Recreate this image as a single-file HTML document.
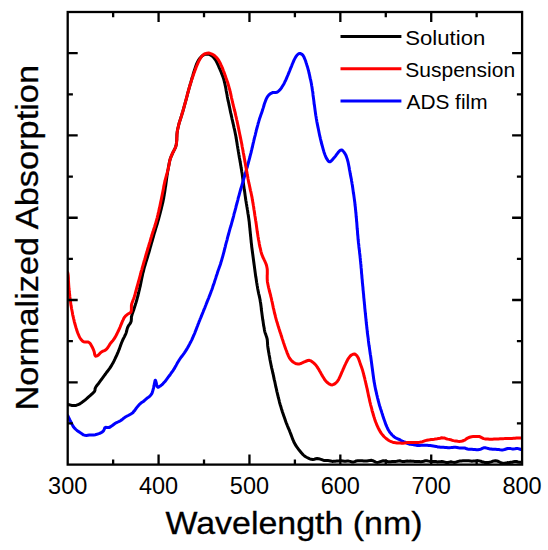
<!DOCTYPE html>
<html><head><meta charset="utf-8"><style>
html,body{margin:0;padding:0;background:#fff;width:548px;height:550px;overflow:hidden}
svg{display:block}
text{font-family:"Liberation Sans",sans-serif}
</style></head><body>
<svg width="548" height="550" viewBox="0 0 548 550">
<rect width="548" height="550" fill="#fff"/>
<defs><clipPath id="c"><rect x="67.7" y="12.0" width="454.4" height="452.6"/></clipPath></defs>
<g clip-path="url(#c)" fill="none" stroke-width="3" stroke-linejoin="round" stroke-linecap="round">
<path stroke="#000000" d="M67.7,404.6 L69.2,404.7 L70.6,405.1 L72.1,405.5 L73.6,405.6 L75.1,405.5 L76.6,405.2 L78.0,404.7 L79.3,404.1 L80.6,403.3 L81.9,402.4 L83.1,401.5 L84.3,400.6 L85.5,399.7 L86.7,398.7 L87.8,397.7 L88.9,396.7 L90.1,395.7 L91.2,394.7 L92.3,393.7 L93.4,392.6 L94.4,391.5 L95.0,390.2 L95.1,388.6 L95.7,387.3 L96.5,386.0 L97.4,384.8 L98.4,383.7 L99.3,382.4 L100.2,381.2 L101.0,380.0 L101.9,378.8 L102.8,377.6 L103.7,376.4 L104.6,375.2 L105.5,374.0 L106.4,372.7 L107.3,371.5 L108.2,370.3 L109.1,369.1 L110.0,367.9 L110.8,366.6 L111.6,365.4 L112.3,364.1 L113.1,362.7 L113.8,361.4 L114.4,360.1 L115.1,358.7 L115.7,357.3 L116.4,356.0 L117.0,354.6 L117.6,353.2 L118.2,351.8 L118.7,350.5 L119.3,349.1 L119.8,347.6 L120.3,346.2 L120.8,344.8 L121.3,343.4 L121.9,342.0 L122.5,340.6 L123.1,339.2 L123.8,337.9 L124.5,336.6 L125.1,335.2 L125.8,333.9 L126.3,332.4 L126.7,331.0 L127.0,329.5 L127.4,328.1 L128.0,326.7 L128.7,325.4 L129.7,324.1 L130.5,322.9 L131.1,321.5 L131.3,320.1 L131.4,318.6 L131.4,317.0 L131.8,315.6 L132.2,314.1 L132.7,312.7 L133.2,311.3 L133.7,309.9 L134.2,308.4 L134.6,307.0 L135.1,305.6 L135.5,304.1 L136.0,302.7 L136.4,301.3 L136.8,299.8 L137.2,298.4 L137.6,296.9 L138.0,295.5 L138.3,294.0 L138.7,292.5 L139.0,291.1 L139.4,289.6 L139.7,288.1 L140.1,286.7 L140.4,285.2 L140.7,283.7 L141.0,282.3 L141.3,280.8 L141.6,279.3 L141.9,277.8 L142.2,276.4 L142.5,274.9 L142.8,273.4 L143.2,272.0 L143.6,270.5 L143.9,269.1 L144.3,267.6 L144.7,266.2 L145.2,264.7 L145.6,263.3 L146.0,261.8 L146.5,260.4 L146.9,259.0 L147.4,257.5 L147.8,256.1 L148.2,254.6 L148.7,253.2 L149.1,251.8 L149.5,250.3 L149.9,248.9 L150.3,247.4 L150.7,246.0 L151.1,244.5 L151.5,243.1 L152.0,241.6 L152.4,240.2 L152.8,238.7 L153.2,237.3 L153.6,235.8 L154.0,234.4 L154.4,232.9 L154.9,231.5 L155.3,230.1 L155.7,228.6 L156.2,227.2 L156.6,225.8 L157.1,224.3 L157.5,222.9 L157.9,221.4 L158.3,220.0 L158.7,218.5 L159.1,217.1 L159.5,215.6 L159.9,214.2 L160.3,212.7 L160.6,211.3 L161.0,209.8 L161.4,208.3 L161.7,206.9 L162.1,205.4 L162.4,203.9 L162.8,202.5 L163.1,201.0 L163.4,199.5 L163.7,198.1 L163.9,196.6 L164.2,195.1 L164.4,193.6 L164.7,192.1 L164.9,190.7 L165.1,189.2 L165.3,187.7 L165.6,186.2 L165.8,184.7 L166.0,183.2 L166.2,181.7 L166.4,180.2 L166.6,178.7 L166.8,177.2 L167.0,175.8 L167.3,174.3 L167.5,172.8 L167.7,171.3 L168.0,169.8 L168.3,168.3 L168.5,166.8 L168.8,165.4 L169.1,163.9 L169.4,162.4 L169.7,160.9 L170.1,159.5 L170.5,158.1 L171.1,156.7 L171.7,155.3 L172.3,153.9 L172.9,152.5 L173.6,151.2 L174.3,149.8 L175.0,148.4 L175.6,147.1 L176.0,145.7 L176.3,144.2 L176.5,142.7 L176.6,141.2 L176.8,139.7 L176.8,138.2 L176.9,136.7 L176.9,135.2 L177.0,133.7 L177.2,132.2 L177.4,130.7 L177.7,129.2 L178.0,127.8 L178.4,126.3 L178.7,124.8 L179.1,123.4 L179.5,121.9 L180.0,120.5 L180.5,119.1 L180.9,117.6 L181.4,116.2 L181.8,114.8 L182.2,113.3 L182.7,111.9 L183.1,110.4 L183.5,109.0 L183.9,107.5 L184.3,106.1 L184.7,104.6 L185.1,103.2 L185.5,101.7 L185.9,100.3 L186.3,98.8 L186.7,97.4 L187.1,95.9 L187.4,94.5 L187.8,93.0 L188.2,91.6 L188.6,90.1 L189.0,88.7 L189.4,87.2 L189.8,85.8 L190.2,84.3 L190.7,82.9 L191.1,81.4 L191.5,80.0 L191.9,78.5 L192.3,77.1 L192.8,75.6 L193.2,74.1 L193.6,72.7 L194.1,71.3 L194.6,69.8 L195.0,68.4 L195.5,67.0 L196.0,65.6 L196.5,64.2 L197.1,62.9 L197.8,61.5 L198.6,60.1 L199.4,58.9 L200.3,57.7 L201.3,56.7 L202.6,55.6 L203.9,54.8 L205.3,54.2 L206.7,54.0 L208.2,54.2 L209.7,54.7 L211.2,55.4 L212.4,56.2 L213.4,57.2 L214.3,58.3 L215.2,59.5 L216.0,60.8 L216.7,62.2 L217.4,63.6 L218.1,65.0 L218.7,66.5 L219.3,67.9 L219.9,69.2 L220.5,70.6 L221.1,72.0 L221.6,73.4 L222.2,74.8 L222.7,76.2 L223.2,77.6 L223.7,79.1 L224.1,80.5 L224.4,82.0 L224.8,83.4 L225.1,84.9 L225.4,86.3 L225.7,87.8 L226.0,89.3 L226.2,90.8 L226.5,92.3 L226.8,93.8 L227.1,95.2 L227.3,96.7 L227.6,98.2 L227.9,99.7 L228.2,101.2 L228.6,102.6 L228.9,104.1 L229.2,105.6 L229.5,107.0 L229.8,108.5 L230.1,110.0 L230.4,111.5 L230.7,112.9 L231.1,114.4 L231.4,115.9 L231.7,117.3 L232.0,118.8 L232.4,120.3 L232.7,121.7 L233.0,123.2 L233.4,124.7 L233.7,126.1 L234.0,127.6 L234.4,129.1 L234.7,130.5 L235.0,132.0 L235.3,133.5 L235.6,135.0 L235.9,136.4 L236.1,137.9 L236.4,139.4 L236.6,140.9 L236.9,142.4 L237.1,143.8 L237.3,145.3 L237.6,146.8 L237.8,148.3 L238.1,149.8 L238.3,151.3 L238.6,152.8 L238.8,154.2 L239.1,155.7 L239.3,157.2 L239.6,158.7 L239.9,160.2 L240.1,161.6 L240.4,163.1 L240.6,164.6 L240.9,166.1 L241.1,167.6 L241.4,169.1 L241.6,170.5 L241.8,172.0 L242.1,173.5 L242.3,175.0 L242.5,176.5 L242.7,178.0 L242.9,179.5 L243.1,181.0 L243.3,182.5 L243.5,183.9 L243.7,185.4 L243.9,186.9 L244.1,188.4 L244.3,189.9 L244.6,191.4 L244.8,192.9 L245.0,194.4 L245.2,195.9 L245.4,197.3 L245.6,198.8 L245.8,200.3 L246.1,201.8 L246.3,203.3 L246.6,204.8 L246.8,206.3 L247.1,207.7 L247.3,209.2 L247.6,210.7 L247.8,212.2 L248.0,213.7 L248.3,215.2 L248.5,216.7 L248.7,218.1 L248.9,219.6 L249.1,221.1 L249.3,222.6 L249.4,224.1 L249.6,225.6 L249.7,227.1 L249.9,228.6 L250.0,230.1 L250.2,231.6 L250.3,233.1 L250.5,234.6 L250.6,236.1 L250.8,237.6 L250.9,239.1 L251.1,240.6 L251.2,242.1 L251.4,243.6 L251.6,245.1 L251.7,246.6 L251.9,248.0 L252.1,249.5 L252.3,251.0 L252.5,252.5 L252.7,254.0 L252.9,255.5 L253.1,257.0 L253.3,258.5 L253.5,260.0 L253.7,261.5 L253.9,263.0 L254.1,264.5 L254.3,265.9 L254.5,267.4 L254.7,268.9 L254.9,270.4 L255.1,271.9 L255.3,273.4 L255.5,274.9 L255.7,276.4 L256.0,277.9 L256.2,279.3 L256.4,280.8 L256.6,282.3 L256.9,283.8 L257.1,285.3 L257.4,286.8 L257.6,288.3 L257.9,289.7 L258.2,291.2 L258.5,292.7 L258.8,294.1 L259.2,295.6 L259.5,297.1 L259.8,298.5 L260.1,300.0 L260.3,301.5 L260.6,303.0 L260.8,304.5 L261.0,306.0 L261.2,307.5 L261.3,309.0 L261.5,310.5 L261.7,311.9 L261.9,313.4 L262.1,314.9 L262.3,316.4 L262.5,317.9 L262.7,319.4 L263.0,320.9 L263.2,322.4 L263.4,323.9 L263.6,325.4 L263.9,326.8 L264.2,328.3 L264.4,329.8 L264.7,331.3 L265.1,332.7 L265.6,334.1 L266.1,335.6 L266.6,337.0 L267.0,338.4 L267.3,339.9 L267.4,341.4 L267.5,342.9 L267.6,344.4 L267.7,345.9 L267.9,347.4 L268.1,348.9 L268.4,350.4 L268.6,351.9 L268.9,353.3 L269.1,354.8 L269.4,356.3 L269.7,357.8 L269.9,359.3 L270.2,360.7 L270.5,362.2 L270.8,363.7 L271.1,365.2 L271.4,366.6 L271.7,368.1 L272.1,369.6 L272.4,371.0 L272.7,372.5 L273.1,374.0 L273.4,375.4 L273.7,376.9 L274.0,378.4 L274.3,379.9 L274.7,381.3 L275.0,382.8 L275.3,384.3 L275.6,385.7 L275.9,387.2 L276.3,388.7 L276.6,390.1 L276.9,391.6 L277.3,393.1 L277.6,394.5 L278.0,396.0 L278.3,397.5 L278.7,398.9 L279.1,400.4 L279.4,401.8 L279.8,403.3 L280.2,404.7 L280.7,406.2 L281.1,407.6 L281.5,409.0 L282.0,410.5 L282.4,411.9 L282.9,413.3 L283.4,414.8 L283.9,416.2 L284.4,417.6 L284.9,419.0 L285.4,420.5 L285.9,421.9 L286.4,423.3 L287.0,424.7 L287.5,426.1 L288.1,427.5 L288.7,428.8 L289.3,430.2 L289.8,431.6 L290.4,433.0 L290.9,434.4 L291.5,435.9 L292.0,437.3 L292.5,438.7 L293.1,440.1 L293.7,441.5 L294.3,442.8 L295.0,444.1 L295.8,445.4 L296.6,446.7 L297.5,447.9 L298.4,449.1 L299.3,450.3 L300.3,451.5 L301.3,452.7 L302.3,453.9 L303.4,455.0 L304.5,456.0 L305.7,456.8 L307.0,457.5 L308.3,458.1 L309.8,458.8 L311.3,459.3 L312.8,459.5 L314.3,459.2 L315.8,458.8 L317.2,458.6 L318.7,458.7 L320.2,459.1 L321.7,459.6 L323.2,460.2 L324.7,460.6 L326.2,460.6 L327.7,460.4 L329.2,460.7 L330.7,461.0 L332.2,461.4 L333.7,461.2 L335.2,461.2 L336.7,461.1 L338.2,461.1 L339.7,460.8 L341.2,460.7 L342.7,460.9 L344.2,461.2 L345.7,461.2 L347.2,461.1 L348.7,461.1 L350.2,461.4 L351.7,461.9 L353.2,462.0 L354.7,461.6 L356.2,461.0 L357.7,460.8 L359.2,460.8 L360.7,460.8 L362.2,460.7 L363.7,460.9 L365.2,461.0 L366.7,461.1 L368.2,460.7 L369.7,460.6 L371.2,460.3 L372.7,460.6 L374.2,461.3 L375.7,462.1 L377.2,462.4 L378.7,462.1 L380.2,461.6 L381.7,461.2 L383.2,460.8 L384.7,460.9 L386.2,461.1 L387.8,461.7 L389.3,461.7 L390.8,461.7 L392.3,461.4 L393.8,461.5 L395.3,461.5 L396.8,461.3 L398.3,461.0 L399.8,460.8 L401.3,461.2 L402.8,461.4 L404.3,461.4 L405.8,461.2 L407.3,461.0 L408.8,461.2 L410.3,461.1 L411.8,461.2 L413.3,461.2 L414.8,461.4 L416.3,461.5 L417.8,461.5 L419.3,461.6 L420.8,461.7 L422.3,461.6 L423.8,461.2 L425.3,460.8 L426.8,460.8 L428.3,461.1 L429.8,461.4 L431.3,461.6 L432.8,461.4 L434.3,461.5 L435.8,461.5 L437.3,461.9 L438.8,461.8 L440.3,461.8 L441.8,461.6 L443.3,461.8 L444.9,462.1 L446.4,462.6 L447.9,462.5 L449.4,462.1 L450.9,461.8 L452.4,462.1 L453.9,462.4 L455.4,462.3 L456.9,461.8 L458.4,461.4 L459.9,461.0 L461.4,460.9 L462.9,460.8 L464.3,460.8 L465.8,460.8 L467.3,460.7 L468.8,460.8 L470.3,460.9 L471.8,461.2 L473.4,461.1 L474.9,461.1 L476.4,460.9 L477.8,460.6 L479.3,460.9 L480.7,461.2 L482.2,461.9 L483.6,462.1 L485.1,462.5 L486.5,462.4 L488.0,462.6 L489.5,462.2 L491.0,461.9 L492.5,461.3 L494.0,461.0 L495.5,460.7 L497.0,461.0 L498.5,461.5 L500.0,462.3 L501.5,462.9 L503.0,463.5 L504.5,463.2 L506.0,463.1 L507.5,462.6 L509.0,462.7 L510.5,462.3 L512.0,462.3 L513.5,461.7 L515.0,461.4 L516.5,461.5 L518.0,462.0 L519.5,462.2 L521.0,462.2"/>
<path stroke="#0000ff" d="M67.7,415.5 L68.4,416.9 L69.1,418.3 L69.7,419.7 L70.4,421.0 L71.1,422.3 L71.7,423.6 L72.4,424.9 L73.0,426.1 L73.8,427.3 L74.8,428.4 L75.9,429.5 L77.0,430.5 L78.2,431.4 L79.5,432.1 L80.8,433.1 L82.2,434.0 L83.5,434.9 L85.0,435.3 L86.4,435.4 L87.8,435.2 L89.3,435.0 L90.8,434.9 L92.3,434.9 L93.8,434.9 L95.3,434.7 L96.8,434.3 L98.2,433.8 L99.7,433.3 L101.1,432.6 L102.4,431.9 L103.5,430.9 L104.2,429.4 L104.8,427.9 L105.8,427.3 L107.4,427.6 L108.9,427.5 L110.2,427.0 L111.5,426.1 L112.7,425.2 L114.0,424.2 L115.3,423.3 L116.6,422.6 L117.9,422.0 L119.2,421.4 L120.4,420.7 L121.7,419.9 L123.0,418.8 L124.2,417.9 L125.4,417.0 L126.7,416.3 L128.2,415.5 L129.6,414.7 L130.9,414.0 L132.0,413.3 L133.0,412.5 L133.8,411.4 L134.8,410.4 L135.7,409.0 L136.7,407.7 L137.7,406.4 L138.7,405.3 L139.8,404.1 L140.9,403.1 L142.1,402.3 L143.3,401.5 L144.5,400.5 L145.7,399.4 L146.9,398.3 L148.1,397.5 L149.3,396.6 L150.4,395.5 L151.3,394.4 L152.0,393.2 L152.5,391.8 L152.9,390.4 L153.3,388.9 L153.7,387.4 L154.0,385.9 L154.3,384.2 L154.7,382.4 L155.0,380.9 L155.3,380.2 L155.7,380.8 L156.2,382.7 L156.7,384.9 L157.3,386.7 L158.0,387.3 L159.0,386.8 L160.3,386.0 L161.7,384.9 L162.9,383.8 L164.0,382.6 L165.0,381.5 L165.9,380.3 L166.8,379.1 L167.7,377.9 L168.6,376.7 L169.5,375.5 L170.4,374.3 L171.2,373.0 L172.1,371.8 L173.0,370.6 L173.8,369.3 L174.6,368.1 L175.3,366.8 L176.1,365.4 L176.8,364.1 L177.5,362.8 L178.3,361.5 L179.1,360.2 L179.9,359.0 L180.8,357.7 L181.7,356.5 L182.6,355.3 L183.5,354.1 L184.4,352.9 L185.2,351.7 L186.0,350.4 L186.8,349.1 L187.6,347.8 L188.3,346.5 L189.0,345.2 L189.7,343.9 L190.4,342.5 L191.1,341.2 L191.8,339.8 L192.4,338.5 L193.0,337.1 L193.6,335.7 L194.2,334.4 L194.8,333.0 L195.3,331.6 L195.9,330.2 L196.4,328.8 L196.9,327.4 L197.5,326.0 L198.0,324.5 L198.6,323.1 L199.1,321.7 L199.7,320.3 L200.2,318.9 L200.8,317.6 L201.4,316.2 L201.9,314.8 L202.5,313.4 L203.1,312.0 L203.6,310.6 L204.2,309.2 L204.8,307.8 L205.3,306.4 L205.9,305.0 L206.4,303.6 L207.0,302.2 L207.5,300.8 L208.1,299.4 L208.7,298.0 L209.2,296.6 L209.8,295.2 L210.3,293.8 L210.8,292.4 L211.3,291.0 L211.9,289.6 L212.4,288.2 L212.8,286.8 L213.3,285.3 L213.8,283.9 L214.3,282.5 L214.7,281.1 L215.2,279.6 L215.7,278.2 L216.1,276.8 L216.6,275.3 L217.1,273.9 L217.5,272.5 L218.0,271.1 L218.5,269.6 L219.0,268.2 L219.5,266.8 L220.0,265.4 L220.5,264.0 L220.9,262.5 L221.4,261.1 L221.8,259.7 L222.2,258.2 L222.6,256.8 L223.0,255.3 L223.4,253.9 L223.8,252.4 L224.2,251.0 L224.5,249.5 L224.9,248.0 L225.3,246.6 L225.6,245.1 L226.0,243.7 L226.4,242.2 L226.8,240.8 L227.2,239.3 L227.5,237.9 L227.9,236.4 L228.3,235.0 L228.7,233.5 L229.1,232.1 L229.5,230.6 L229.9,229.2 L230.3,227.7 L230.8,226.3 L231.2,224.8 L231.6,223.4 L232.0,221.9 L232.4,220.5 L232.8,219.0 L233.2,217.6 L233.6,216.1 L233.9,214.7 L234.3,213.2 L234.7,211.8 L235.1,210.3 L235.5,208.9 L235.9,207.4 L236.2,205.9 L236.6,204.5 L237.0,203.0 L237.4,201.6 L237.8,200.1 L238.1,198.7 L238.5,197.2 L238.9,195.8 L239.3,194.3 L239.7,192.9 L240.1,191.4 L240.5,190.0 L240.9,188.5 L241.4,187.1 L241.8,185.7 L242.2,184.2 L242.6,182.8 L243.1,181.3 L243.5,179.9 L243.9,178.4 L244.3,177.0 L244.8,175.6 L245.2,174.1 L245.6,172.7 L246.0,171.2 L246.4,169.8 L246.8,168.3 L247.3,166.9 L247.6,165.4 L248.0,164.0 L248.4,162.5 L248.8,161.1 L249.2,159.6 L249.6,158.2 L250.0,156.7 L250.3,155.3 L250.7,153.8 L251.1,152.4 L251.4,150.9 L251.8,149.4 L252.1,148.0 L252.5,146.5 L252.8,145.0 L253.1,143.6 L253.5,142.1 L253.8,140.7 L254.2,139.2 L254.5,137.7 L254.9,136.3 L255.3,134.8 L255.6,133.4 L256.0,131.9 L256.3,130.4 L256.7,129.0 L257.1,127.5 L257.5,126.1 L257.9,124.6 L258.2,123.2 L258.7,121.7 L259.1,120.3 L259.5,118.8 L260.0,117.4 L260.5,116.0 L261.0,114.6 L261.5,113.2 L262.0,111.7 L262.5,110.3 L262.9,108.9 L263.4,107.4 L263.8,106.0 L264.2,104.5 L264.7,103.1 L265.2,101.7 L265.7,100.3 L266.3,98.9 L267.0,97.5 L267.8,96.2 L268.7,95.1 L269.8,94.1 L271.1,93.3 L272.5,92.6 L274.0,92.4 L275.5,92.6 L276.9,92.3 L278.2,91.4 L279.4,90.4 L280.4,89.2 L281.3,88.1 L282.1,86.8 L282.9,85.5 L283.7,84.2 L284.4,82.9 L285.0,81.5 L285.7,80.2 L286.3,78.8 L286.9,77.4 L287.5,76.0 L288.1,74.6 L288.6,73.3 L289.2,71.9 L289.8,70.5 L290.3,69.1 L290.9,67.7 L291.5,66.3 L292.0,64.9 L292.6,63.5 L293.2,62.1 L293.8,60.7 L294.4,59.4 L295.1,58.1 L295.9,56.7 L296.9,55.3 L298.0,54.2 L299.1,53.5 L300.5,53.6 L302.0,54.4 L303.0,55.4 L303.8,56.7 L304.4,58.1 L305.0,59.5 L305.6,61.0 L306.0,62.4 L306.5,63.8 L306.9,65.2 L307.4,66.7 L307.8,68.1 L308.2,69.6 L308.6,71.0 L308.9,72.5 L309.3,74.0 L309.6,75.4 L309.9,76.9 L310.2,78.4 L310.6,79.8 L310.9,81.3 L311.2,82.8 L311.5,84.3 L311.7,85.7 L312.0,87.2 L312.2,88.7 L312.4,90.2 L312.7,91.7 L312.9,93.2 L313.0,94.7 L313.2,96.2 L313.4,97.6 L313.6,99.1 L313.8,100.6 L314.0,102.1 L314.1,103.6 L314.4,105.1 L314.6,106.6 L314.8,108.1 L315.0,109.6 L315.2,111.1 L315.4,112.6 L315.6,114.0 L315.8,115.5 L316.1,117.0 L316.3,118.5 L316.6,120.0 L316.8,121.5 L317.1,122.9 L317.4,124.4 L317.7,125.9 L318.0,127.4 L318.3,128.8 L318.6,130.3 L318.9,131.8 L319.2,133.2 L319.5,134.7 L319.8,136.2 L320.2,137.6 L320.5,139.1 L320.9,140.6 L321.2,142.0 L321.6,143.5 L322.0,145.0 L322.4,146.4 L322.8,147.9 L323.2,149.3 L323.6,150.7 L324.0,152.2 L324.5,153.6 L325.0,155.0 L325.6,156.4 L326.2,157.8 L327.0,159.2 L328.0,160.7 L329.0,161.8 L330.1,161.8 L331.2,161.0 L332.3,159.9 L333.4,158.5 L334.5,157.3 L335.5,156.1 L336.5,154.7 L337.5,153.3 L338.5,152.0 L339.5,150.9 L340.5,150.1 L341.5,149.9 L342.7,150.6 L343.8,151.9 L344.8,153.3 L345.6,154.7 L346.2,156.0 L346.7,157.4 L347.2,158.9 L347.6,160.4 L348.0,161.8 L348.3,163.3 L348.6,164.7 L348.9,166.2 L349.2,167.7 L349.4,169.2 L349.7,170.7 L350.0,172.2 L350.2,173.6 L350.5,175.1 L350.8,176.6 L351.1,178.1 L351.4,179.5 L351.6,181.0 L351.9,182.5 L352.1,184.0 L352.4,185.5 L352.6,187.0 L352.8,188.4 L353.0,189.9 L353.2,191.4 L353.4,192.9 L353.7,194.4 L353.9,195.9 L354.1,197.4 L354.3,198.9 L354.5,200.3 L354.7,201.8 L354.9,203.3 L355.0,204.8 L355.2,206.3 L355.4,207.8 L355.5,209.3 L355.7,210.8 L355.8,212.3 L356.0,213.8 L356.1,215.3 L356.2,216.8 L356.4,218.3 L356.5,219.8 L356.6,221.3 L356.8,222.8 L356.9,224.3 L357.0,225.8 L357.1,227.3 L357.2,228.8 L357.4,230.3 L357.5,231.8 L357.6,233.3 L357.7,234.8 L357.9,236.3 L358.0,237.8 L358.1,239.3 L358.3,240.7 L358.4,242.2 L358.6,243.7 L358.8,245.2 L358.9,246.7 L359.1,248.2 L359.3,249.7 L359.5,251.2 L359.6,252.7 L359.8,254.2 L360.0,255.7 L360.1,257.2 L360.3,258.7 L360.4,260.2 L360.6,261.7 L360.7,263.2 L360.9,264.7 L361.0,266.2 L361.1,267.7 L361.3,269.1 L361.4,270.6 L361.5,272.1 L361.6,273.6 L361.8,275.1 L361.9,276.6 L362.0,278.1 L362.2,279.6 L362.3,281.1 L362.4,282.6 L362.6,284.1 L362.7,285.6 L362.9,287.1 L363.0,288.6 L363.1,290.1 L363.3,291.6 L363.4,293.1 L363.6,294.6 L363.7,296.1 L363.8,297.6 L364.0,299.1 L364.1,300.6 L364.3,302.1 L364.4,303.6 L364.6,305.1 L364.7,306.6 L364.8,308.1 L365.0,309.6 L365.1,311.1 L365.3,312.5 L365.4,314.0 L365.6,315.5 L365.7,317.0 L365.9,318.5 L366.0,320.0 L366.2,321.5 L366.3,323.0 L366.5,324.5 L366.7,326.0 L366.8,327.5 L367.0,329.0 L367.2,330.5 L367.3,332.0 L367.5,333.5 L367.7,335.0 L367.9,336.5 L368.1,337.9 L368.3,339.4 L368.4,340.9 L368.6,342.4 L368.8,343.9 L369.0,345.4 L369.3,346.9 L369.5,348.4 L369.7,349.9 L369.9,351.4 L370.1,352.8 L370.3,354.3 L370.6,355.8 L370.8,357.3 L371.0,358.8 L371.2,360.3 L371.4,361.8 L371.6,363.2 L371.8,364.7 L372.0,366.2 L372.2,367.7 L372.4,369.2 L372.6,370.7 L372.8,372.2 L373.0,373.7 L373.2,375.2 L373.4,376.7 L373.6,378.2 L373.8,379.6 L374.0,381.1 L374.3,382.6 L374.6,384.1 L374.8,385.6 L375.1,387.0 L375.4,388.5 L375.7,390.0 L376.1,391.5 L376.4,392.9 L376.7,394.4 L377.1,395.9 L377.4,397.3 L377.8,398.8 L378.1,400.2 L378.5,401.7 L378.9,403.1 L379.3,404.6 L379.7,406.0 L380.2,407.5 L380.6,408.9 L381.1,410.3 L381.6,411.8 L382.0,413.2 L382.5,414.6 L382.9,416.0 L383.4,417.5 L383.9,418.9 L384.4,420.4 L384.9,421.8 L385.4,423.3 L385.9,424.7 L386.5,426.0 L387.1,427.4 L387.7,428.7 L388.4,430.0 L389.2,431.3 L390.1,432.6 L391.1,433.8 L392.1,435.0 L393.2,436.0 L394.3,436.9 L395.5,437.7 L396.8,438.4 L398.1,439.0 L399.6,439.6 L401.0,440.5 L402.4,441.2 L403.7,441.7 L405.1,442.2 L406.5,442.9 L407.9,443.7 L409.3,444.2 L410.7,444.3 L412.2,444.4 L413.7,444.7 L415.2,445.1 L416.7,445.4 L418.2,445.5 L419.7,445.4 L421.2,445.3 L422.7,445.3 L424.2,445.3 L425.7,445.3 L427.2,445.3 L428.7,445.4 L430.2,445.6 L431.7,445.8 L433.2,446.0 L434.6,446.2 L436.1,446.4 L437.6,446.9 L439.1,447.1 L440.6,447.3 L442.1,447.2 L443.5,447.3 L445.0,447.4 L446.5,447.5 L448.0,447.7 L449.5,447.7 L451.0,447.6 L452.5,447.4 L454.0,447.2 L455.5,447.3 L457.0,447.5 L458.5,447.8 L460.0,448.0 L461.5,447.9 L463.0,447.9 L464.5,447.9 L466.0,448.5 L467.5,449.0 L468.9,449.3 L470.4,449.3 L471.9,449.3 L473.4,449.4 L475.0,449.6 L476.5,449.8 L478.0,449.7 L479.4,449.6 L480.9,449.1 L482.3,448.4 L483.7,447.8 L485.2,447.7 L486.7,448.1 L488.2,448.5 L489.6,448.9 L491.1,449.0 L492.6,449.2 L494.1,449.2 L495.6,449.3 L497.1,449.4 L498.6,449.6 L500.1,449.8 L501.6,449.9 L503.1,449.9 L504.6,449.5 L506.1,449.0 L507.6,448.5 L509.1,448.4 L510.6,448.6 L512.0,448.9 L513.5,448.9 L515.0,448.8 L516.5,448.5 L518.0,448.6 L519.5,449.0 L521.0,449.5"/>
<path stroke="#ff0000" d="M67.7,272.5 L68.0,274.0 L68.2,275.4 L68.3,276.9 L68.4,278.4 L68.4,279.9 L68.5,281.4 L68.6,283.0 L68.7,284.5 L68.8,286.0 L68.9,287.5 L69.0,289.0 L69.2,290.5 L69.3,292.0 L69.5,293.4 L69.7,294.9 L69.8,296.4 L70.0,297.9 L70.2,299.4 L70.4,300.9 L70.6,302.4 L70.8,303.9 L71.0,305.4 L71.3,306.8 L71.5,308.3 L71.8,309.8 L72.1,311.3 L72.4,312.8 L72.6,314.2 L72.9,315.7 L73.3,317.2 L73.6,318.6 L74.0,320.1 L74.3,321.6 L74.7,323.0 L75.1,324.5 L75.5,325.9 L75.9,327.4 L76.4,328.8 L76.8,330.3 L77.3,331.7 L77.8,333.1 L78.4,334.5 L79.0,335.9 L79.6,337.2 L80.4,338.5 L81.3,339.8 L82.4,340.9 L83.6,341.7 L85.0,341.9 L86.7,341.9 L88.2,342.0 L89.4,342.7 L90.4,343.8 L91.2,345.2 L91.9,346.5 L92.6,347.8 L93.2,349.2 L93.8,350.6 L94.3,352.2 L94.6,354.0 L95.0,355.4 L95.6,356.2 L97.0,355.9 L98.4,355.0 L99.4,353.9 L100.4,352.8 L101.6,351.8 L103.0,351.2 L104.4,350.6 L105.7,349.9 L106.8,348.9 L107.7,347.8 L108.5,346.5 L109.3,345.2 L110.1,343.9 L111.0,342.7 L112.0,341.5 L113.0,340.4 L113.9,339.2 L114.7,337.9 L115.5,336.7 L116.2,335.3 L116.9,334.0 L117.5,332.6 L118.2,331.3 L118.8,329.9 L119.5,328.5 L120.1,327.1 L120.6,325.7 L121.2,324.3 L121.8,322.9 L122.3,321.5 L123.0,320.1 L123.6,318.8 L124.3,317.5 L125.2,316.4 L126.3,315.3 L127.5,314.3 L128.9,313.5 L130.3,312.7 L131.1,311.7 L131.4,310.4 L131.4,308.9 L131.4,307.3 L131.4,305.7 L131.6,304.2 L132.1,302.8 L132.6,301.4 L133.1,300.0 L133.7,298.6 L134.2,297.2 L134.6,295.7 L135.1,294.3 L135.4,292.8 L135.8,291.4 L136.2,289.9 L136.6,288.5 L137.0,287.0 L137.4,285.6 L137.8,284.1 L138.2,282.7 L138.6,281.2 L139.0,279.8 L139.4,278.3 L139.8,276.9 L140.2,275.4 L140.6,274.0 L140.9,272.5 L141.3,271.1 L141.8,269.6 L142.2,268.2 L142.6,266.7 L143.0,265.3 L143.4,263.8 L143.8,262.4 L144.2,261.0 L144.7,259.5 L145.1,258.1 L145.5,256.6 L145.9,255.2 L146.3,253.7 L146.8,252.3 L147.2,250.9 L147.6,249.4 L148.0,248.0 L148.5,246.5 L148.9,245.1 L149.3,243.7 L149.8,242.2 L150.2,240.8 L150.6,239.3 L151.0,237.9 L151.5,236.5 L151.9,235.0 L152.4,233.6 L152.8,232.1 L153.3,230.7 L153.7,229.3 L154.2,227.9 L154.7,226.4 L155.1,225.0 L155.6,223.6 L156.0,222.1 L156.4,220.7 L156.8,219.2 L157.2,217.8 L157.5,216.3 L157.9,214.9 L158.2,213.4 L158.6,211.9 L158.9,210.5 L159.2,209.0 L159.6,207.5 L159.9,206.1 L160.2,204.6 L160.5,203.1 L160.8,201.6 L161.1,200.2 L161.4,198.7 L161.7,197.2 L162.0,195.8 L162.3,194.3 L162.6,192.8 L162.9,191.3 L163.2,189.9 L163.5,188.4 L163.7,186.9 L164.0,185.4 L164.3,184.0 L164.6,182.5 L165.0,181.0 L165.3,179.6 L165.7,178.1 L166.1,176.7 L166.5,175.2 L166.9,173.8 L167.3,172.3 L167.7,170.9 L168.1,169.4 L168.4,167.9 L168.7,166.5 L169.0,165.0 L169.2,163.5 L169.5,162.0 L169.8,160.5 L170.2,159.1 L170.7,157.7 L171.2,156.3 L171.8,154.9 L172.4,153.5 L173.1,152.1 L173.8,150.8 L174.5,149.4 L175.1,148.1 L175.7,146.7 L176.1,145.3 L176.4,143.8 L176.6,142.3 L176.7,140.8 L176.8,139.3 L176.8,137.8 L176.9,136.3 L177.0,134.8 L177.1,133.3 L177.2,131.8 L177.5,130.3 L177.8,128.9 L178.1,127.4 L178.5,125.9 L178.8,124.5 L179.2,123.0 L179.6,121.6 L180.1,120.1 L180.6,118.7 L181.0,117.3 L181.5,115.9 L181.9,114.4 L182.3,113.0 L182.8,111.5 L183.2,110.1 L183.6,108.6 L184.0,107.2 L184.4,105.7 L184.8,104.3 L185.2,102.8 L185.6,101.4 L186.0,99.9 L186.4,98.5 L186.7,97.0 L187.1,95.6 L187.5,94.1 L187.9,92.7 L188.3,91.2 L188.7,89.8 L189.1,88.3 L189.5,86.9 L189.9,85.4 L190.4,84.0 L190.8,82.6 L191.3,81.1 L191.7,79.7 L192.2,78.3 L192.7,76.9 L193.2,75.4 L193.7,74.0 L194.2,72.6 L194.7,71.2 L195.2,69.8 L195.8,68.4 L196.3,66.9 L196.9,65.5 L197.5,64.1 L198.1,62.7 L198.7,61.4 L199.4,60.1 L200.1,58.8 L201.0,57.5 L201.9,56.2 L203.0,55.1 L204.1,54.2 L205.4,53.6 L206.9,53.2 L208.5,53.1 L209.9,53.3 L211.4,53.8 L212.8,54.5 L214.0,55.3 L215.2,56.2 L216.3,57.3 L217.3,58.4 L218.2,59.7 L219.0,60.9 L219.7,62.2 L220.4,63.5 L221.0,64.9 L221.7,66.3 L222.2,67.7 L222.8,69.1 L223.3,70.5 L223.9,71.9 L224.4,73.3 L224.9,74.7 L225.4,76.1 L225.9,77.6 L226.4,79.0 L226.9,80.4 L227.4,81.8 L227.9,83.3 L228.3,84.7 L228.7,86.2 L229.1,87.6 L229.5,89.0 L229.9,90.5 L230.2,92.0 L230.6,93.4 L230.9,94.9 L231.2,96.4 L231.5,97.8 L231.9,99.3 L232.2,100.8 L232.5,102.2 L232.9,103.7 L233.2,105.2 L233.6,106.6 L234.0,108.1 L234.3,109.5 L234.7,111.0 L235.1,112.4 L235.4,113.9 L235.7,115.4 L236.1,116.8 L236.4,118.3 L236.7,119.8 L237.1,121.2 L237.4,122.7 L237.7,124.2 L238.0,125.6 L238.3,127.1 L238.6,128.6 L238.9,130.1 L239.2,131.5 L239.5,133.0 L239.8,134.5 L240.1,135.9 L240.4,137.4 L240.7,138.9 L241.0,140.4 L241.3,141.8 L241.6,143.3 L241.9,144.8 L242.1,146.3 L242.4,147.7 L242.7,149.2 L243.0,150.7 L243.2,152.2 L243.5,153.7 L243.8,155.1 L244.0,156.6 L244.3,158.1 L244.6,159.6 L244.8,161.1 L245.1,162.5 L245.4,164.0 L245.6,165.5 L245.9,167.0 L246.2,168.5 L246.4,169.9 L246.7,171.4 L247.0,172.9 L247.2,174.4 L247.5,175.8 L247.8,177.3 L248.0,178.8 L248.3,180.3 L248.6,181.7 L248.9,183.2 L249.3,184.7 L249.6,186.2 L249.9,187.6 L250.2,189.1 L250.5,190.6 L250.9,192.0 L251.2,193.5 L251.5,195.0 L251.8,196.4 L252.1,197.9 L252.3,199.4 L252.6,200.9 L252.8,202.4 L253.1,203.8 L253.3,205.3 L253.6,206.8 L253.8,208.3 L254.0,209.8 L254.3,211.3 L254.5,212.7 L254.7,214.2 L254.9,215.7 L255.2,217.2 L255.4,218.7 L255.6,220.2 L255.9,221.7 L256.1,223.2 L256.3,224.6 L256.5,226.1 L256.7,227.6 L256.9,229.1 L257.1,230.6 L257.3,232.1 L257.6,233.6 L257.8,235.1 L258.0,236.5 L258.3,238.0 L258.5,239.5 L258.8,241.0 L259.1,242.5 L259.3,244.0 L259.6,245.4 L259.9,246.9 L260.3,248.4 L260.6,249.8 L260.9,251.3 L261.3,252.7 L261.7,254.2 L262.3,255.6 L262.8,257.0 L263.5,258.4 L264.1,259.7 L264.8,261.1 L265.4,262.5 L266.0,263.9 L266.5,265.3 L266.8,266.7 L267.1,268.2 L267.3,269.7 L267.3,271.2 L267.3,272.7 L267.3,274.2 L267.2,275.7 L267.2,277.2 L267.2,278.7 L267.3,280.2 L267.4,281.7 L267.7,283.2 L268.0,284.7 L268.3,286.2 L268.6,287.6 L269.0,289.1 L269.3,290.5 L269.7,292.0 L270.1,293.5 L270.5,294.9 L270.8,296.4 L271.2,297.8 L271.5,299.3 L271.8,300.8 L272.2,302.2 L272.5,303.7 L272.8,305.2 L273.1,306.6 L273.4,308.1 L273.8,309.6 L274.1,311.0 L274.4,312.5 L274.8,314.0 L275.2,315.4 L275.5,316.9 L275.9,318.3 L276.3,319.8 L276.7,321.2 L277.2,322.7 L277.6,324.1 L278.0,325.5 L278.5,327.0 L278.9,328.4 L279.4,329.8 L279.8,331.3 L280.3,332.7 L280.8,334.1 L281.2,335.6 L281.7,337.0 L282.1,338.4 L282.6,339.9 L283.1,341.3 L283.5,342.7 L284.0,344.1 L284.5,345.6 L285.0,347.0 L285.5,348.4 L286.0,349.8 L286.6,351.3 L287.1,352.8 L287.7,354.2 L288.3,355.6 L288.9,356.9 L289.6,358.2 L290.4,359.3 L291.4,360.5 L292.5,361.6 L293.8,362.5 L295.2,363.3 L296.5,363.8 L298.0,364.0 L299.5,363.9 L301.0,363.5 L302.3,362.8 L303.7,362.2 L305.1,361.6 L306.5,361.0 L307.9,360.5 L309.3,360.3 L310.8,360.8 L312.1,361.7 L313.3,362.6 L314.4,363.6 L315.5,364.7 L316.4,365.9 L317.3,367.1 L318.1,368.4 L318.9,369.6 L319.6,371.0 L320.4,372.3 L321.1,373.6 L321.8,374.9 L322.6,376.2 L323.4,377.5 L324.2,378.8 L325.0,380.1 L326.0,381.2 L327.0,382.3 L328.3,383.3 L329.6,384.2 L331.0,384.8 L332.3,384.9 L333.7,384.4 L335.1,383.6 L336.3,382.5 L337.3,381.4 L338.2,380.2 L338.9,378.9 L339.5,377.6 L340.2,376.2 L340.8,374.7 L341.4,373.3 L342.0,371.9 L342.6,370.6 L343.2,369.2 L343.8,367.8 L344.4,366.4 L345.0,365.1 L345.7,363.7 L346.3,362.4 L347.0,361.0 L347.7,359.6 L348.5,358.3 L349.4,357.1 L350.3,356.0 L351.5,355.0 L353.0,354.2 L354.4,354.0 L355.6,354.5 L356.8,355.6 L357.7,357.0 L358.4,358.3 L358.9,359.7 L359.4,361.1 L359.9,362.6 L360.4,364.0 L360.9,365.4 L361.4,366.8 L361.9,368.2 L362.4,369.7 L362.8,371.1 L363.2,372.6 L363.6,374.0 L363.9,375.5 L364.3,376.9 L364.7,378.4 L365.0,379.8 L365.4,381.3 L365.7,382.8 L366.0,384.2 L366.4,385.7 L366.7,387.2 L367.1,388.6 L367.4,390.1 L367.7,391.6 L368.0,393.0 L368.3,394.5 L368.6,396.0 L369.0,397.5 L369.3,398.9 L369.6,400.4 L369.9,401.9 L370.3,403.3 L370.6,404.8 L371.0,406.2 L371.4,407.7 L371.8,409.1 L372.1,410.6 L372.5,412.1 L373.0,413.5 L373.4,415.0 L373.8,416.4 L374.3,417.8 L374.7,419.2 L375.2,420.7 L375.7,422.1 L376.3,423.5 L376.8,424.9 L377.5,426.3 L378.1,427.7 L378.8,429.0 L379.4,430.3 L380.2,431.6 L381.0,432.9 L381.9,434.1 L382.9,435.3 L383.9,436.5 L385.0,437.5 L386.1,438.5 L387.2,439.3 L388.5,440.2 L389.8,441.0 L391.2,441.7 L392.7,442.2 L394.1,442.6 L395.5,442.7 L397.0,442.9 L398.5,443.0 L400.1,443.1 L401.6,443.2 L403.1,443.2 L404.6,443.1 L406.1,442.7 L407.6,442.5 L409.1,442.4 L410.6,442.4 L412.1,442.5 L413.6,442.6 L415.1,442.6 L416.6,442.4 L418.1,442.4 L419.6,442.3 L421.0,442.1 L422.5,441.7 L423.9,441.1 L425.3,440.6 L426.8,440.3 L428.3,440.0 L429.7,439.8 L431.2,439.5 L432.7,439.4 L434.2,439.2 L435.7,438.9 L437.2,438.7 L438.7,438.4 L440.2,438.2 L441.7,437.8 L443.2,437.9 L444.7,438.1 L446.1,438.7 L447.6,439.1 L449.1,439.4 L450.5,439.7 L451.9,440.2 L453.4,440.6 L454.8,440.9 L456.3,441.1 L457.8,441.3 L459.3,441.4 L460.9,441.3 L462.4,441.0 L463.8,440.5 L465.2,439.8 L466.3,438.9 L467.6,438.1 L469.0,437.5 L470.4,437.0 L471.8,436.7 L473.3,436.4 L474.8,436.5 L476.3,436.4 L477.8,436.4 L479.3,436.5 L480.7,437.1 L482.2,437.9 L483.6,438.6 L485.0,438.9 L486.5,439.0 L487.9,439.1 L489.4,439.2 L491.0,439.2 L492.5,439.2 L494.0,439.1 L495.5,439.0 L497.0,438.9 L498.5,438.9 L500.0,438.8 L501.5,438.8 L503.0,438.7 L504.5,438.6 L506.0,438.4 L507.5,438.4 L509.0,438.4 L510.5,438.4 L512.0,438.4 L513.5,438.3 L515.0,438.2 L516.5,438.0 L518.0,438.0 L519.5,438.0 L521.0,438.0"/>
</g>
<rect x="67.70" y="12.00" width="454.40" height="452.60" fill="none" stroke="#000" stroke-width="2.30"/>
<path d="M113.14,464.60V459.40 M113.14,12.00V17.20 M158.58,464.60V454.60 M158.58,12.00V22.00 M204.02,464.60V459.40 M204.02,12.00V17.20 M249.46,464.60V454.60 M249.46,12.00V22.00 M294.90,464.60V459.40 M294.90,12.00V17.20 M340.34,464.60V454.60 M340.34,12.00V22.00 M385.78,464.60V459.40 M385.78,12.00V17.20 M431.22,464.60V454.60 M431.22,12.00V22.00 M476.66,464.60V459.40 M476.66,12.00V17.20 M67.70,423.45H72.90 M522.10,423.45H516.90 M67.70,382.31H77.70 M522.10,382.31H512.10 M67.70,341.16H72.90 M522.10,341.16H516.90 M67.70,300.02H77.70 M522.10,300.02H512.10 M67.70,258.87H72.90 M522.10,258.87H516.90 M67.70,217.73H77.70 M522.10,217.73H512.10 M67.70,176.58H72.90 M522.10,176.58H516.90 M67.70,135.44H77.70 M522.10,135.44H512.10 M67.70,94.29H72.90 M522.10,94.29H516.90 M67.70,53.15H77.70 M522.10,53.15H512.10" stroke="#000" stroke-width="2.30" fill="none"/>
<text x="67.70" y="493.50" font-size="23.50" text-anchor="middle" font-family="Liberation Sans, sans-serif">300</text>
<text x="158.58" y="493.50" font-size="23.50" text-anchor="middle" font-family="Liberation Sans, sans-serif">400</text>
<text x="249.46" y="493.50" font-size="23.50" text-anchor="middle" font-family="Liberation Sans, sans-serif">500</text>
<text x="340.34" y="493.50" font-size="23.50" text-anchor="middle" font-family="Liberation Sans, sans-serif">600</text>
<text x="431.22" y="493.50" font-size="23.50" text-anchor="middle" font-family="Liberation Sans, sans-serif">700</text>
<text x="522.10" y="493.50" font-size="23.50" text-anchor="middle" font-family="Liberation Sans, sans-serif">800</text>
<text x="165.50" y="533.50" font-size="32.20" font-family="Liberation Sans, sans-serif" textLength="257.00" lengthAdjust="spacingAndGlyphs" stroke="#000" stroke-width="0.30">Wavelength (nm)</text>
<text transform="translate(38.20,410.50) rotate(-90)" x="0" y="0" font-size="32.20" font-family="Liberation Sans, sans-serif" textLength="345.50" lengthAdjust="spacingAndGlyphs" stroke="#000" stroke-width="0.30">Normalized Absorption</text>
<path d="M340.50,36.60H401.40" stroke="#000" stroke-width="3.00"/>
<text x="405.30" y="44.80" font-size="20.80" font-family="Liberation Sans, sans-serif" textLength="80.00" lengthAdjust="spacingAndGlyphs">Solution</text>
<path d="M340.50,68.75H401.40" stroke="#f00" stroke-width="3.00"/>
<text x="405.30" y="76.95" font-size="20.80" font-family="Liberation Sans, sans-serif" textLength="109.80" lengthAdjust="spacingAndGlyphs">Suspension</text>
<path d="M340.50,100.90H401.40" stroke="#00f" stroke-width="3.00"/>
<text x="406.50" y="109.10" font-size="20.80" font-family="Liberation Sans, sans-serif" textLength="81.00" lengthAdjust="spacingAndGlyphs">ADS film</text>
</svg>
</body></html>
